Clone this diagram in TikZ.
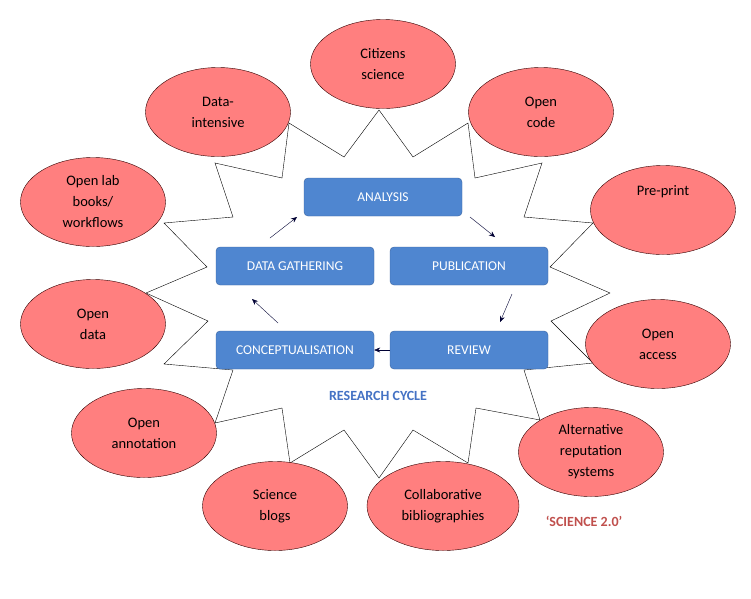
\documentclass[tikz,border=0pt]{standalone}
\usepackage{fontspec}
\setmainfont{Carlito}
\usetikzlibrary{arrows.meta,shapes.geometric}
\definecolor{pinkf}{HTML}{FF7F7F}
\definecolor{boxf}{HTML}{4F86D0}
\definecolor{boxd}{HTML}{3A64A0}
\definecolor{rc}{HTML}{4472C4}
\definecolor{sc}{HTML}{C0504D}
\begin{document}
\begin{tikzpicture}[x=1pt,y=-1pt,
 ell/.style={ellipse,draw=black!80!red,fill=pinkf,minimum width=145,minimum height=89,inner sep=0pt,align=center,font=\fontsize{14.5}{21}\selectfont,text=black},
 box/.style={rectangle,rounded corners=4,draw=boxd,fill=boxf,minimum width=158,minimum height=38,font=\fontsize{13.5}{15}\selectfont,text=white},
 arr/.style={-{Stealth[length=6,width=5]},draw=black!80!blue,thin}]
\useasboundingbox (0,0) rectangle (751,598);
\draw[black,fill=white] (289,123)--(344,157)--(379,110)--(413,157)--(468,123)--(475,178)--(542,163)--(524,217)--(593,223)--(550,267)--(610,293)--(551,321)--(593,363)--(524,370)--(540,420)--(476,408)--(468,463)--(413,430)--(379,478)--(344,430)--(290,463)--(282,408)--(215,423)--(233,370)--(164,364)--(208,321)--(146,293)--(207,267)--(164,223)--(233,217)--(215,163)--(282,178)--cycle;
\node[ell] (cit) at (383,64) {Citizens\\science};
\node[ell] (dat) at (218,112) {Data-\\intensive};
\node[ell] (code) at (541,112) {Open\\code};
\node[ell] (lab) at (93,202) {Open lab\\books/\\workflows};
\node[ell] (pre) at (663,210) {Pre-print\\[1.3em]};
\node[ell] (od) at (93,324) {Open\\data};
\node[ell] (oa) at (658,344) {Open\\access};
\node[ell] (ann) at (144,433) {Open\\annotation};
\node[ell] (alt) at (591,452) {Alternative\\reputation\\systems};
\node[ell] (blog) at (275,506) {Science\\blogs};
\node[ell,minimum width=152] (col) at (443,506) {Collaborative\\bibliographies};
\node[box] (an) at (383,197) {ANALYSIS};
\node[box] (dg) at (295,266) {DATA GATHERING};
\node[box] (pub) at (469,266) {PUBLICATION};
\node[box] (con) at (295,350) {CONCEPTUALISATION};
\node[box] (rev) at (469,350) {REVIEW};
\draw[arr] (270,238) -- (297,217);
\draw[arr] (470,217) -- (495,237);
\draw[arr] (512,294) -- (500,322);
\draw[arr] (rev.west) -- (con.east);
\draw[arr] (278,323) -- (252,299);
\node[text=rc,font=\fontsize{14}{16}\selectfont\bfseries] (rcy) at (378,396) {RESEARCH CYCLE};
\node[text=sc,font=\fontsize{14}{16}\selectfont\bfseries] (sci) at (584,521) {‘SCIENCE 2.0’};
\end{tikzpicture}
\end{document}
